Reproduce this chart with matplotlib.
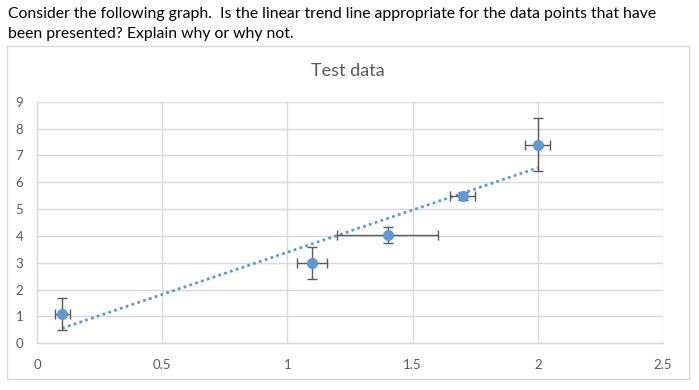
import numpy as np
import matplotlib
matplotlib.use("Agg")
import matplotlib.pyplot as plt
from matplotlib.patches import Rectangle

# data
x_vals = [0.1, 1.1, 1.4, 1.7, 2.0]
y_vals = [1.1, 3.0, 4.05, 5.5, 7.4]
x_err = [0.03, 0.06, 0.2, 0.05, 0.05]
y_err = [0.6, 0.6, 0.3, 0.15, 1.0]
x_ticks = [0, 0.5, 1, 1.5, 2, 2.5]
x_tick_labels = ["0", "0.5", "1", "1.5", "2", "2.5"]
y_ticks = list(range(0, 10))

question = ["Consider the following graph.  Is the linear trend line appropriate for the data points that have",
            "been presented? Explain why or why not."]
title = "Test data"

BLUE = "#5B9BD5"
GREY_TXT = "#595959"
GRID = "#D9D9D9"
FONT = "Lato"

W, H = 699, 390
fig = plt.figure(figsize=(W / 100, H / 100), dpi=100)
fig.patch.set_facecolor("white")

# chart frame
fig.add_artist(Rectangle((7 / W, 1 - 379 / H), (689 - 7) / W, (379 - 46) / H,
                         transform=fig.transFigure, fill=False,
                         edgecolor=GRID, linewidth=1))

# question text, fitted to the reference width
t1 = fig.text(8 / W, 1 - 18.3 / H, question[0], fontsize=12, family=FONT,
              color="black", va="baseline", ha="left")
t2 = fig.text(8 / W, 1 - 38.3 / H, question[1], fontsize=12, family=FONT,
              color="black", va="baseline", ha="left")
r = fig.canvas.get_renderer()
w = t1.get_window_extent(r).width
fs = 12 * (651 - 8) / w
t1.set_fontsize(fs)
t2.set_fontsize(fs)

ax = fig.add_axes([37 / W, 1 - 343.3 / H, (663 - 37) / W, (343.3 - 101.7) / H])
ax.set_xlim(0, 2.5)
ax.set_ylim(0, 9)
ax.set_xticks(x_ticks)
ax.set_xticklabels(x_tick_labels)
ax.set_yticks(y_ticks)
for s in ["top", "right"]:
    ax.spines[s].set_visible(False)
for s in ["left", "bottom"]:
    ax.spines[s].set_color(GRID)
    ax.spines[s].set_linewidth(1)
ax.grid(True, color=GRID, linewidth=1)
ax.set_axisbelow(True)
ax.tick_params(length=0, colors=GREY_TXT, labelsize=9.5)
ax.tick_params(axis="x", pad=11)
ax.tick_params(axis="y", pad=10)
for lab in ax.get_xticklabels() + ax.get_yticklabels():
    lab.set_family(FONT)

# linear trend line
slope, icpt = np.polyfit(x_vals, y_vals, 1)
tx = np.array([min(x_vals), max(x_vals)])
ax.plot(tx, slope * tx + icpt, linestyle=(0, (1, 1.2)), color=BLUE,
        linewidth=2, zorder=2)

ax.errorbar(x_vals, y_vals, xerr=x_err, yerr=y_err, fmt="o", color=BLUE,
            markersize=7, ecolor=GREY_TXT, elinewidth=1, capsize=3.5,
            capthick=1, zorder=3)

fig.text(348 / W, 1 - 71 / H, title, fontsize=13, family=FONT,
         color=GREY_TXT, ha="center", va="center")

fig.savefig("out.png", dpi=100)
